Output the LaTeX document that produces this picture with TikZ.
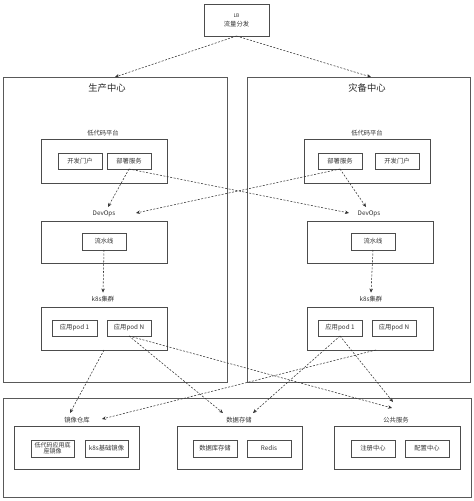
\documentclass[tikz,border=0pt]{standalone}
\usepackage{fontspec}
\setmainfont{Noto Sans CJK SC}
\usetikzlibrary{arrows.meta}
\tikzset{
 x=1pt,y=-1pt,
 outer/.style={draw=black!65, line width=0.9pt},
 grp/.style={draw=black!70, line width=0.9pt},
 item/.style={draw=black!70, line width=1pt, font=\fontsize{6.3}{7}\selectfont, text=black!80},
 ttl/.style={font=\fontsize{9.3}{10}\selectfont, text=black!85},
 lbl/.style={font=\fontsize{6.3}{7}\selectfont, text=black!80},
 flow/.style={draw=black!80, line width=0.55pt, dash pattern=on 2pt off 1.5pt, -{Stealth[length=4pt,width=3.5pt]}},
}
\newcommand\BX[7]{\node[#1, anchor=north west, inner sep=0pt, outer sep=0pt, minimum width={(#5-#3)*1pt}, minimum height={(#6-#4)*1pt}, align=center] (#2) at (#3,#4) {#7};}
\begin{document}
\begin{tikzpicture}
\useasboundingbox (0,0) rectangle (474,501);
% LB
\BX{grp}{LB}{204}{4}{269}{36}{}
\node[lbl, font=\fontsize{5}{6}\selectfont] (lbt) at (236.5,16) {LB};
\node[lbl] (lbt2) at (236.5,24.5) {流量分发};
% big boxes
\BX{outer}{L}{3}{77}{227}{382}{}
\BX{outer}{R}{247}{77}{470}{382}{}
\BX{outer}{B}{3}{398}{471}{497}{}
\node[ttl] (Lt) at (107,88) {生产中心};
\node[ttl] (Rt) at (367,88) {灾备中心};
% left low code
\node[lbl] (lcLl) at (103,133) {低代码平台};
\BX{grp}{lcL}{41}{139}{167}{183}{}
\BX{item}{portL}{58}{153}{102}{169}{开发门户}
\BX{item}{depL}{107}{153}{151}{169}{部署服务}
% right low code
\node[lbl] (lcRl) at (367,133) {低代码平台};
\BX{grp}{lcR}{304}{139}{430}{183}{}
\BX{item}{depR}{318}{153}{362}{169}{部署服务}
\BX{item}{portR}{375}{153}{419}{169}{开发门户}
% DevOps
\node[lbl] (devLl) at (104,214) {DevOps};
\BX{grp}{devL}{41}{221}{167}{263}{}
\BX{item}{plL}{82}{233}{126}{250}{流水线}
\node[lbl] (devRl) at (369,214) {DevOps};
\BX{grp}{devR}{307}{221}{433}{263}{}
\BX{item}{plR}{351}{233}{395}{250}{流水线}
% k8s
\node[lbl] (k8sLl) at (103,299) {k8s集群};
\BX{grp}{k8sL}{41}{307}{167}{350}{}
\BX{item}{p1L}{52}{320}{97}{336}{应用pod 1}
\BX{item}{pNL}{107}{320}{151}{336}{应用pod N}
\node[lbl] (k8sRl) at (371,299) {k8s集群};
\BX{grp}{k8sR}{307}{307}{433}{350}{}
\BX{item}{p1R}{318}{320}{362}{336}{应用pod 1}
\BX{item}{pNR}{372}{320}{416}{336}{应用pod N}
% bottom
\node[lbl] (imgl) at (77,420) {镜像仓库};
\BX{grp}{img}{14}{426}{139}{469}{}
\BX{item}{img1}{31}{440}{74}{457}{\fontsize{6}{6.6}\selectfont 低代码应用底\\[-1pt]\fontsize{6}{6.6}\selectfont 座镜像}
\BX{item}{img2}{85}{440}{128}{457}{k8s基础镜像}
\node[lbl] (datl) at (239,420) {数据存储};
\BX{grp}{dat}{177}{426}{302}{469}{}
\BX{item}{db}{193}{440}{237}{457}{数据库存储}
\BX{item}{redis}{247}{440}{291}{457}{Redis}
\node[lbl] (publ) at (396,420) {公共服务};
\BX{grp}{pub}{334}{426}{460}{469}{}
\BX{item}{reg}{351}{440}{395}{457}{注册中心}
\BX{item}{cfg}{405}{440}{449}{457}{配置中心}
% tip coordinates
\coordinate (tR) at (371,77);
\coordinate (t3) at (108,207);
\coordinate (t4) at (349,213);
\coordinate (t5) at (366,207);
\coordinate (t6) at (136,213);
\coordinate (t9) at (70,413);
\coordinate (t10) at (223,413);
\coordinate (t11) at (392,408);
\coordinate (t12) at (102,419);
\coordinate (t13) at (253,413);
\coordinate (t14) at (393,402);
\coordinate (s12) at (376,350);
% arrows
\draw[flow] (LB.south) -- (L.north);
\draw[flow] (LB.south) -- (tR);
\draw[flow] (depL.south) -- (t3);
\draw[flow] (depL.south) -- (t4);
\draw[flow] (depR.south) -- (t5);
\draw[flow] (depR.south) -- (t6);
\draw[flow] (plL.south) -- (k8sLl.north);
\draw[flow] (plR.south) -- (k8sRl.north);
\draw[flow] (k8sL.south) -- (t9);
\draw[flow] (pNL.south) -- (t10);
\draw[flow] (pNL.south) -- (t11);
\draw[flow] (s12) -- (t12);
\draw[flow] (p1R.south) -- (t13);
\draw[flow] (p1R.south) -- (t14);
\end{tikzpicture}
\end{document}
